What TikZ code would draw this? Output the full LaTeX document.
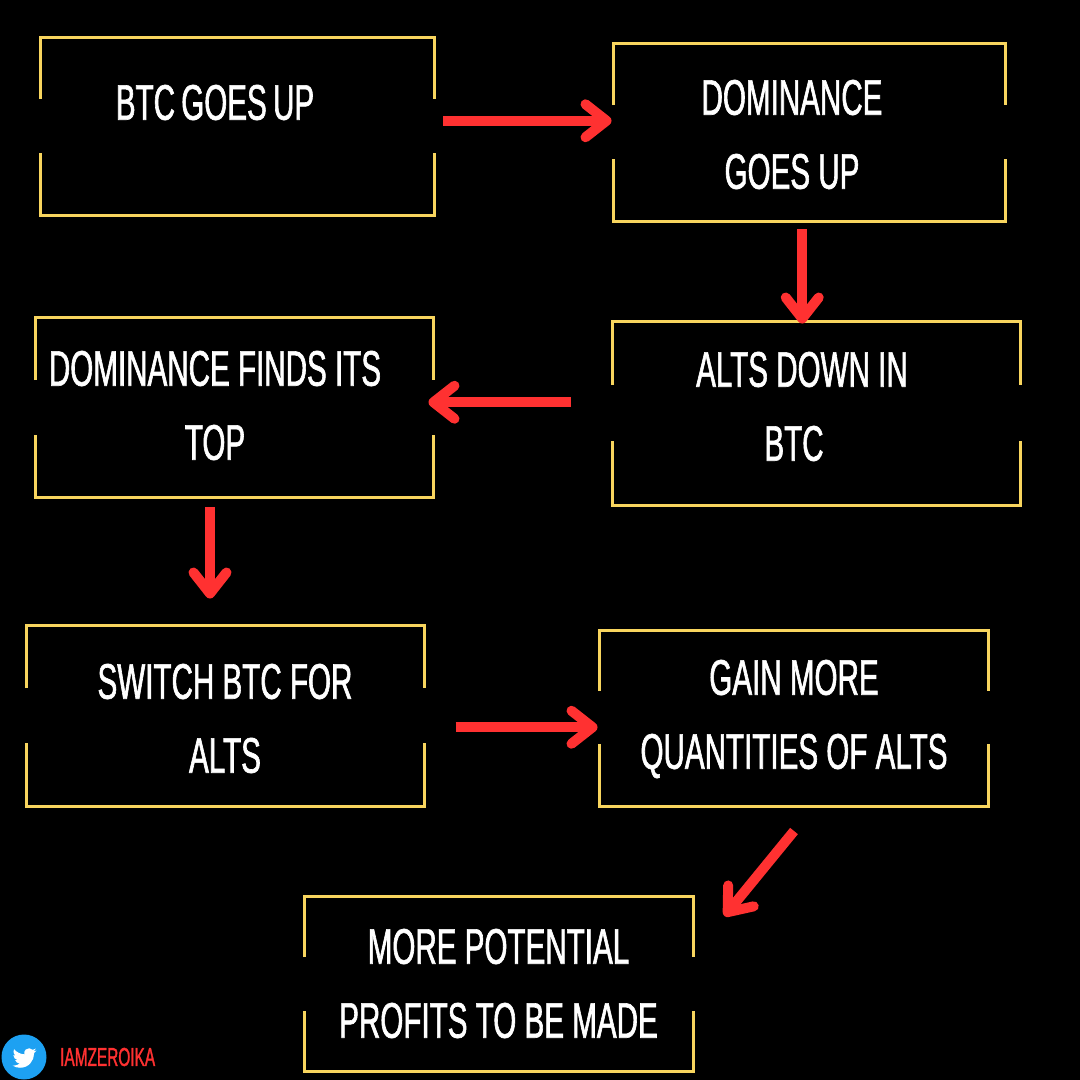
\documentclass[tikz,border=0pt]{standalone}
\usepackage{fontspec}
\usepackage{tikz}
\usetikzlibrary{arrows.meta,fit,svg.path}
\setmainfont[FakeStretch=0.592,FakeBold=1.2]{Liberation Sans}
\definecolor{framecol}{HTML}{F8D55E}
\definecolor{flowcol}{HTML}{FF3131}
\definecolor{birdcol}{HTML}{1DA1F2}
\tikzset{
  frameline/.style={framecol,line width=3pt},
  boxnode/.style={inner sep=0pt,outer sep=0pt},
  txt/.style={white,align=center,inner sep=0pt,font=\fontsize{50}{74}\selectfont},
  flow/.style={flowcol,line width=10pt,-{Straight Barb[length=21pt,width=33pt,line width=10pt,round]}},
}
\begin{document}
\begin{tikzpicture}[x=1pt,y=-1pt]
\fill[black] (0,0) rectangle (1080,1080);
\useasboundingbox (0,0) rectangle (1080,1080);
% boxes
\foreach \n/\xa/\ya/\xb/\yb/\ga/\gb in %
{up/40.5/37.5/434.5/215/99/153,dom/613.5/43.5/1005/221/105/159,alts/612.5/321.5/1020/505/385/441,
 top/35.5/317.5/433.5/497/380/435,switch/26.5/625.5/424.5/806/688/743,gain/599.5/630.5/988.5/806/691/744,
 more/304/896/693.5/1071/957/1011} {
   \node[boxnode,fit={(\xa,\ya) (\xb,\yb)}] (\n) {};
   \draw[frameline] (\xa,\ga) |- (\xb,\ya) -- (\xb,\ga);
   \draw[frameline] (\xa,\gb) |- (\xb,\yb) -- (\xb,\gb);
}
% labels
\node[txt] (uplabel) at (215,102.5) {BTC\kern-2pt{} GOES\kern-2pt{} UP};
\node[txt] (domlabel) at (792,134.5) {DOMINANCE\\GOES UP};
\node[txt] (altslabel) at (802,406.5) {ALTS DOWN IN\\BTC\hspace*{16pt}};
\node[txt] (toplabel) at (215,405.5) {DOMINANCE FINDS ITS\\TOP};
\node[txt] (switchlabel) at (225,718.5) {SWITCH BTC FOR\\ALTS};
\node[txt] (gainlabel) at (794,719) {GAIN MORE\\QUANTITIES OF ALTS};
\node[txt] (morelabel) at (498.5,983.5) {MORE POTENTIAL\\PROFITS TO BE MADE};
% arrows
\draw[flow] ([xshift=8.5pt,yshift=5.5pt]up.east) -- ([xshift=-2pt,yshift=11.5pt]dom.west);
\draw[flow] ([xshift=-7pt,yshift=-8pt]dom.south) -- ([xshift=-14pt,yshift=-2pt]alts.north);
\draw[flow] ([xshift=-42pt,yshift=11pt]alts.west) -- ([xshift=-5pt,yshift=5pt]top.east);
\draw[flow] ([xshift=-24.5pt,yshift=-10pt]top.south) -- ([xshift=-15.5pt,yshift=27pt]switch.north);
\draw[flow] ([xshift=31pt,yshift=-11.5pt]switch.east) -- ([xshift=-2pt,yshift=-9pt]gain.west);
\draw[flow] ([yshift=-25pt]gain.south) -- ([xshift=31pt,yshift=-20pt]more.north east);
% handle
\fill[birdcol] (24,1057) circle (22.5) node[inner sep=0pt] (bird) {};
\begin{scope}[shift={(12.5,1046)},yscale=-1]
\fill[white] svg "M23.953 4.57a10 10 0 0 1 -2.825 .775 4.958 4.958 0 0 0 2.163 -2.723c-.951 .555 -2.005 .959 -3.127 1.184a4.92 4.92 0 0 0 -8.384 4.482C7.69 8.095 4.067 6.13 1.64 3.162a4.822 4.822 0 0 0 -.666 2.475c0 1.71 .87 3.213 2.188 4.096a4.904 4.904 0 0 1 -2.228 -.616v.06a4.923 4.923 0 0 0 3.946 4.827 4.996 4.996 0 0 1 -2.212 .085 4.936 4.936 0 0 0 4.604 3.417 9.867 9.867 0 0 1 -6.102 2.105c-.39 0 -.779 -.023 -1.17 -.067a13.995 13.995 0 0 0 7.557 2.209c9.053 0 13.998 -7.496 13.998 -13.985 0 -.21 0 -.42 -.015 -.63A9.935 9.935 0 0 0 24 4.59z";
\end{scope}
\node[flowcol,inner sep=0pt,anchor=west,font=\fontsize{26}{26}\selectfont] (handle) at (60,1057) {IAMZEROIKA};
\end{tikzpicture}
\end{document}
